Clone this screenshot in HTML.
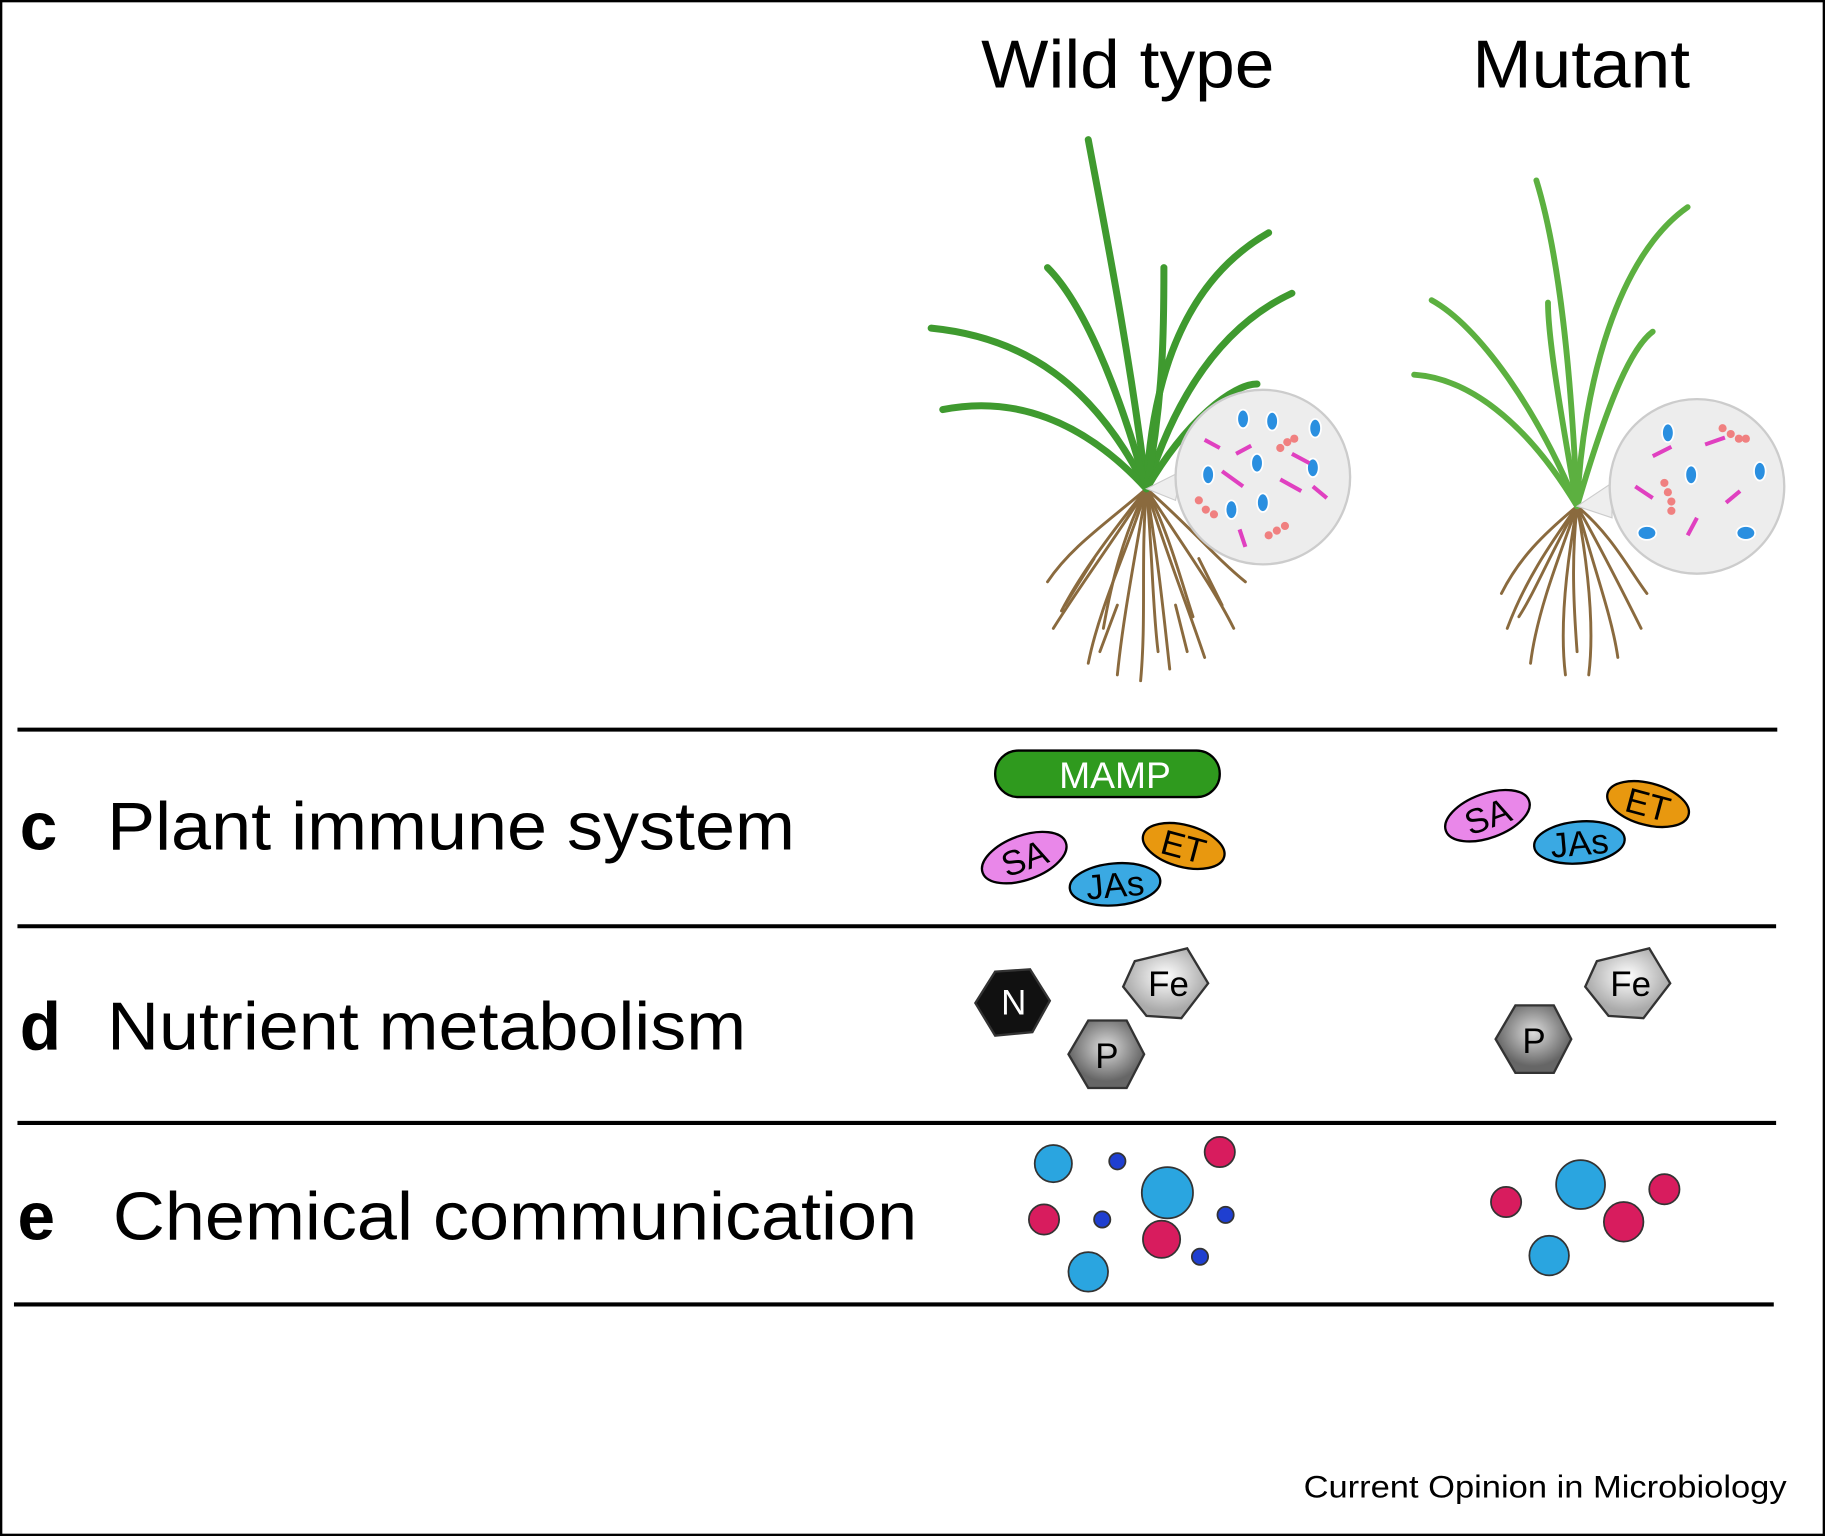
<!DOCTYPE html>
<html><head><meta charset="utf-8"><style>html,body{margin:0;padding:0;background:#fff}svg{display:block}</style></head><body>
<svg width="1825" height="1536" viewBox="0 0 1568 1320" preserveAspectRatio="none" xmlns="http://www.w3.org/2000/svg" font-family="Liberation Sans, Arial, sans-serif">
<rect x="1" y="1" width="1566" height="1318" fill="#fff" stroke="#000" stroke-width="2"/>
<text x="843" y="75" font-size="58" textLength="252" lengthAdjust="spacingAndGlyphs">Wild type</text>
<text x="1265" y="75" font-size="58" textLength="187" lengthAdjust="spacingAndGlyphs">Mutant</text>
<!-- Wild type plant -->
<g fill="none" stroke-linecap="round">
<g stroke="#8a6a3e" stroke-width="2.5">
<path d="M985 420 C960 460 930 500 905 540"/><path d="M985 420 C975 480 965 530 960 580"/><path d="M985 420 C995 480 1000 530 1005 575"/><path d="M985 420 C1010 460 1040 500 1060 540"/><path d="M985 420 C950 450 920 470 900 500"/><path d="M985 420 C1020 450 1045 480 1070 500"/><path d="M985 420 C970 470 945 520 935 570"/><path d="M985 420 C1000 470 1020 520 1035 565"/><path d="M985 420 C980 480 985 530 980 585"/><path d="M940 480 L915 520 M1030 480 L1050 520 M960 520 L945 560 M1010 520 L1020 560"/>
<path d="M985 420 C990 470 990 520 995 560"/><path d="M985 420 C965 460 955 500 948 540"/><path d="M985 420 C1005 460 1015 500 1025 530"/><path d="M985 420 C945 470 925 500 912 525"/>
</g>
<g stroke="#3f9a2f" stroke-width="6">
<path d="M985 420 C970 300 950 200 935 120"/><path d="M985 420 C990 320 1020 240 1090 200"/><path d="M985 420 C940 330 880 290 800 282"/><path d="M985 420 C930 360 870 340 810 352"/><path d="M985 420 C1010 340 1050 280 1110 252"/><path d="M985 420 C960 330 930 260 900 230"/><path d="M985 420 C1000 340 1000 280 1000 230"/><path d="M985 420 C1020 360 1060 330 1080 330"/>
</g>
</g>
<path d="M985 420 L1015 405 L1010 430 Z" fill="#eee" stroke="#ccc"/>
<circle cx="1085" cy="410" r="75" fill="#ededed" stroke="#ccc" stroke-width="2"/>
<g fill="#2a8fe0" stroke="#fff" stroke-width="1.5"><ellipse cx="1068" cy="360" rx="5" ry="8"/><ellipse cx="1093" cy="362" rx="5" ry="8"/><ellipse cx="1130" cy="368" rx="5" ry="8"/><ellipse cx="1080" cy="398" rx="5" ry="8"/><ellipse cx="1038" cy="408" rx="5" ry="8"/><ellipse cx="1128" cy="402" rx="5" ry="8"/><ellipse cx="1058" cy="438" rx="5" ry="8"/><ellipse cx="1085" cy="432" rx="5" ry="8"/></g>
<g stroke="#e040c0" stroke-width="3.5"><path d="M1035 378 L1048 385"/><path d="M1062 390 L1075 383"/><path d="M1050 405 L1068 418"/><path d="M1100 412 L1118 422"/><path d="M1128 418 L1140 428"/><path d="M1065 455 L1070 470"/><path d="M1110 390 L1125 398"/></g>
<g fill="#f08080"><circle cx="1100" cy="385" r="3.5"/><circle cx="1106" cy="380" r="3.5"/><circle cx="1112" cy="377" r="3.5"/><circle cx="1030" cy="430" r="3.5"/><circle cx="1036" cy="438" r="3.5"/><circle cx="1043" cy="442" r="3.5"/><circle cx="1090" cy="460" r="3.5"/><circle cx="1097" cy="456" r="3.5"/><circle cx="1104" cy="452" r="3.5"/></g>
<!-- Mutant plant -->
<g fill="none" stroke-linecap="round">
<g stroke="#8a6a3e" stroke-width="2.5">
<path d="M1355 435 C1330 470 1310 500 1295 540"/><path d="M1355 435 C1345 490 1340 540 1345 580"/><path d="M1355 435 C1365 490 1370 540 1365 580"/><path d="M1355 435 C1375 470 1395 510 1410 540"/><path d="M1355 435 C1325 460 1305 480 1290 510"/><path d="M1355 435 C1385 460 1400 490 1415 510"/><path d="M1355 435 C1335 490 1320 530 1315 570"/><path d="M1355 435 C1370 490 1385 530 1390 565"/>
<path d="M1355 435 C1350 480 1352 520 1355 560"/><path d="M1355 435 C1330 480 1318 510 1305 530"/>
</g>
<g stroke="#5cb040" stroke-width="5">
<path d="M1355 435 C1350 320 1340 220 1320 155"/><path d="M1355 435 C1360 330 1390 220 1450 178"/><path d="M1355 435 C1320 350 1270 280 1230 258"/><path d="M1355 435 C1310 360 1260 325 1215 322"/><path d="M1355 435 C1380 350 1400 300 1420 285"/><path d="M1355 435 C1340 350 1330 290 1330 260"/>
</g>
</g>
<path d="M1355 435 L1385 415 L1385 445 Z" fill="#eee" stroke="#ccc"/>
<circle cx="1458" cy="418" r="75" fill="#ededed" stroke="#ccc" stroke-width="2"/>
<g fill="#2a8fe0" stroke="#fff" stroke-width="1.5"><ellipse cx="1433" cy="372" rx="5" ry="8"/><ellipse cx="1512" cy="405" rx="5" ry="8"/><ellipse cx="1453" cy="408" rx="5" ry="8"/><ellipse cx="1415" cy="458" rx="8" ry="6"/><ellipse cx="1500" cy="458" rx="8" ry="6"/></g>
<g stroke="#e040c0" stroke-width="3.5"><path d="M1420 392 L1436 384"/><path d="M1465 382 L1482 376"/><path d="M1405 418 L1420 428"/><path d="M1483 432 L1495 422"/><path d="M1450 460 L1458 445"/></g>
<g fill="#f08080"><circle cx="1480" cy="368" r="3.5"/><circle cx="1487" cy="373" r="3.5"/><circle cx="1494" cy="377" r="3.5"/><circle cx="1500" cy="377" r="3.5"/><circle cx="1430" cy="415" r="3.5"/><circle cx="1433" cy="423" r="3.5"/><circle cx="1436" cy="431" r="3.5"/><circle cx="1436" cy="439" r="3.5"/></g>
<!-- lines -->
<g stroke="#000" stroke-width="3.5"><line x1="15" y1="627" x2="1527" y2="627"/><line x1="15" y1="796" x2="1526" y2="796"/><line x1="15" y1="965" x2="1526" y2="965"/><line x1="12" y1="1121" x2="1524" y2="1121"/></g>
<g font-size="58"><text x="17" y="730" font-weight="bold">c</text><text x="92" y="730" textLength="591" lengthAdjust="spacingAndGlyphs">Plant immune system</text>
<text x="17" y="902" font-weight="bold">d</text><text x="92" y="902" textLength="549" lengthAdjust="spacingAndGlyphs">Nutrient metabolism</text>
<text x="15" y="1065" font-weight="bold">e</text><text x="97" y="1065" textLength="691" lengthAdjust="spacingAndGlyphs">Chemical communication</text></g>
<!-- immune -->
<rect x="855" y="645" width="193" height="40" rx="20" fill="#2f9a1e" stroke="#000" stroke-width="2"/>
<text x="958" y="677" font-size="32" fill="#fff" text-anchor="middle">MAMP</text>
<g stroke="#000" stroke-width="2" font-size="30" text-anchor="middle">
<g transform="translate(880,737) rotate(-20)"><ellipse rx="38" ry="19" fill="#e987e9"/><text y="11" stroke="none">SA</text></g>
<g transform="translate(958,760) rotate(-5)"><ellipse rx="39" ry="18" fill="#3aa9e3"/><text y="11" stroke="none">JAs</text></g>
<g transform="translate(1017,727) rotate(15)"><ellipse rx="36" ry="18" fill="#e8980f"/><text y="11" stroke="none">ET</text></g>
<g transform="translate(1278,701) rotate(-20)"><ellipse rx="38" ry="19" fill="#e987e9"/><text y="11" stroke="none">SA</text></g>
<g transform="translate(1357,724) rotate(-5)"><ellipse rx="39" ry="18" fill="#3aa9e3"/><text y="11" stroke="none">JAs</text></g>
<g transform="translate(1416,691) rotate(15)"><ellipse rx="36" ry="18" fill="#e8980f"/><text y="11" stroke="none">ET</text></g>
</g>
<!-- nutrients -->
<defs><radialGradient id="gp" cx="50%" cy="40%"><stop offset="0" stop-color="#ddd"/><stop offset="1" stop-color="#666"/></radialGradient>
<radialGradient id="gf" cx="50%" cy="40%"><stop offset="0" stop-color="#fff"/><stop offset="1" stop-color="#aaa"/></radialGradient></defs>
<g stroke="#333" stroke-width="2" font-size="30" text-anchor="middle">
<polygon points="855,835 885,833 902,860 887,887 855,890 838,862" fill="#111"/><text x="871" y="872" fill="#fff" stroke="none">N</text>
<polygon points="935,877 968,877 983,906 968,935 935,935 918,906" fill="url(#gp)"/><text x="951" y="918" fill="#000" stroke="none">P</text>
<polygon points="975,826 1020,815 1038,845 1015,875 985,873 965,848" fill="url(#gf)"/><text x="1004" y="856" fill="#000" stroke="none">Fe</text>
<polygon points="1302,864 1335,864 1350,893 1335,922 1302,922 1285,893" fill="url(#gp)"/><text x="1318" y="905" fill="#000" stroke="none">P</text>
<polygon points="1372,826 1417,815 1435,845 1412,875 1382,873 1362,848" fill="url(#gf)"/><text x="1401" y="856" fill="#000" stroke="none">Fe</text>
</g>
<!-- chemicals -->
<g stroke="#333" stroke-width="1.5">
<circle cx="905" cy="1000" r="16" fill="#2aa5e0"/><circle cx="1003" cy="1025" r="22" fill="#2aa5e0"/><circle cx="935" cy="1093" r="17" fill="#2aa5e0"/>
<circle cx="1048" cy="990" r="13" fill="#d81c5e"/><circle cx="897" cy="1048" r="13" fill="#d81c5e"/><circle cx="998" cy="1065" r="16" fill="#d81c5e"/>
<circle cx="960" cy="998" r="7" fill="#1f3fd0"/><circle cx="947" cy="1048" r="7" fill="#1f3fd0"/><circle cx="1053" cy="1044" r="7" fill="#1f3fd0"/><circle cx="1031" cy="1080" r="7" fill="#1f3fd0"/>
<circle cx="1358" cy="1018" r="21" fill="#2aa5e0"/><circle cx="1331" cy="1079" r="17" fill="#2aa5e0"/>
<circle cx="1294" cy="1033" r="13" fill="#d81c5e"/><circle cx="1430" cy="1022" r="13" fill="#d81c5e"/><circle cx="1395" cy="1050" r="17" fill="#d81c5e"/>
</g>
<text x="1120" y="1287" font-size="27" textLength="415" lengthAdjust="spacingAndGlyphs">Current Opinion in Microbiology</text>
</svg>
</body></html>
